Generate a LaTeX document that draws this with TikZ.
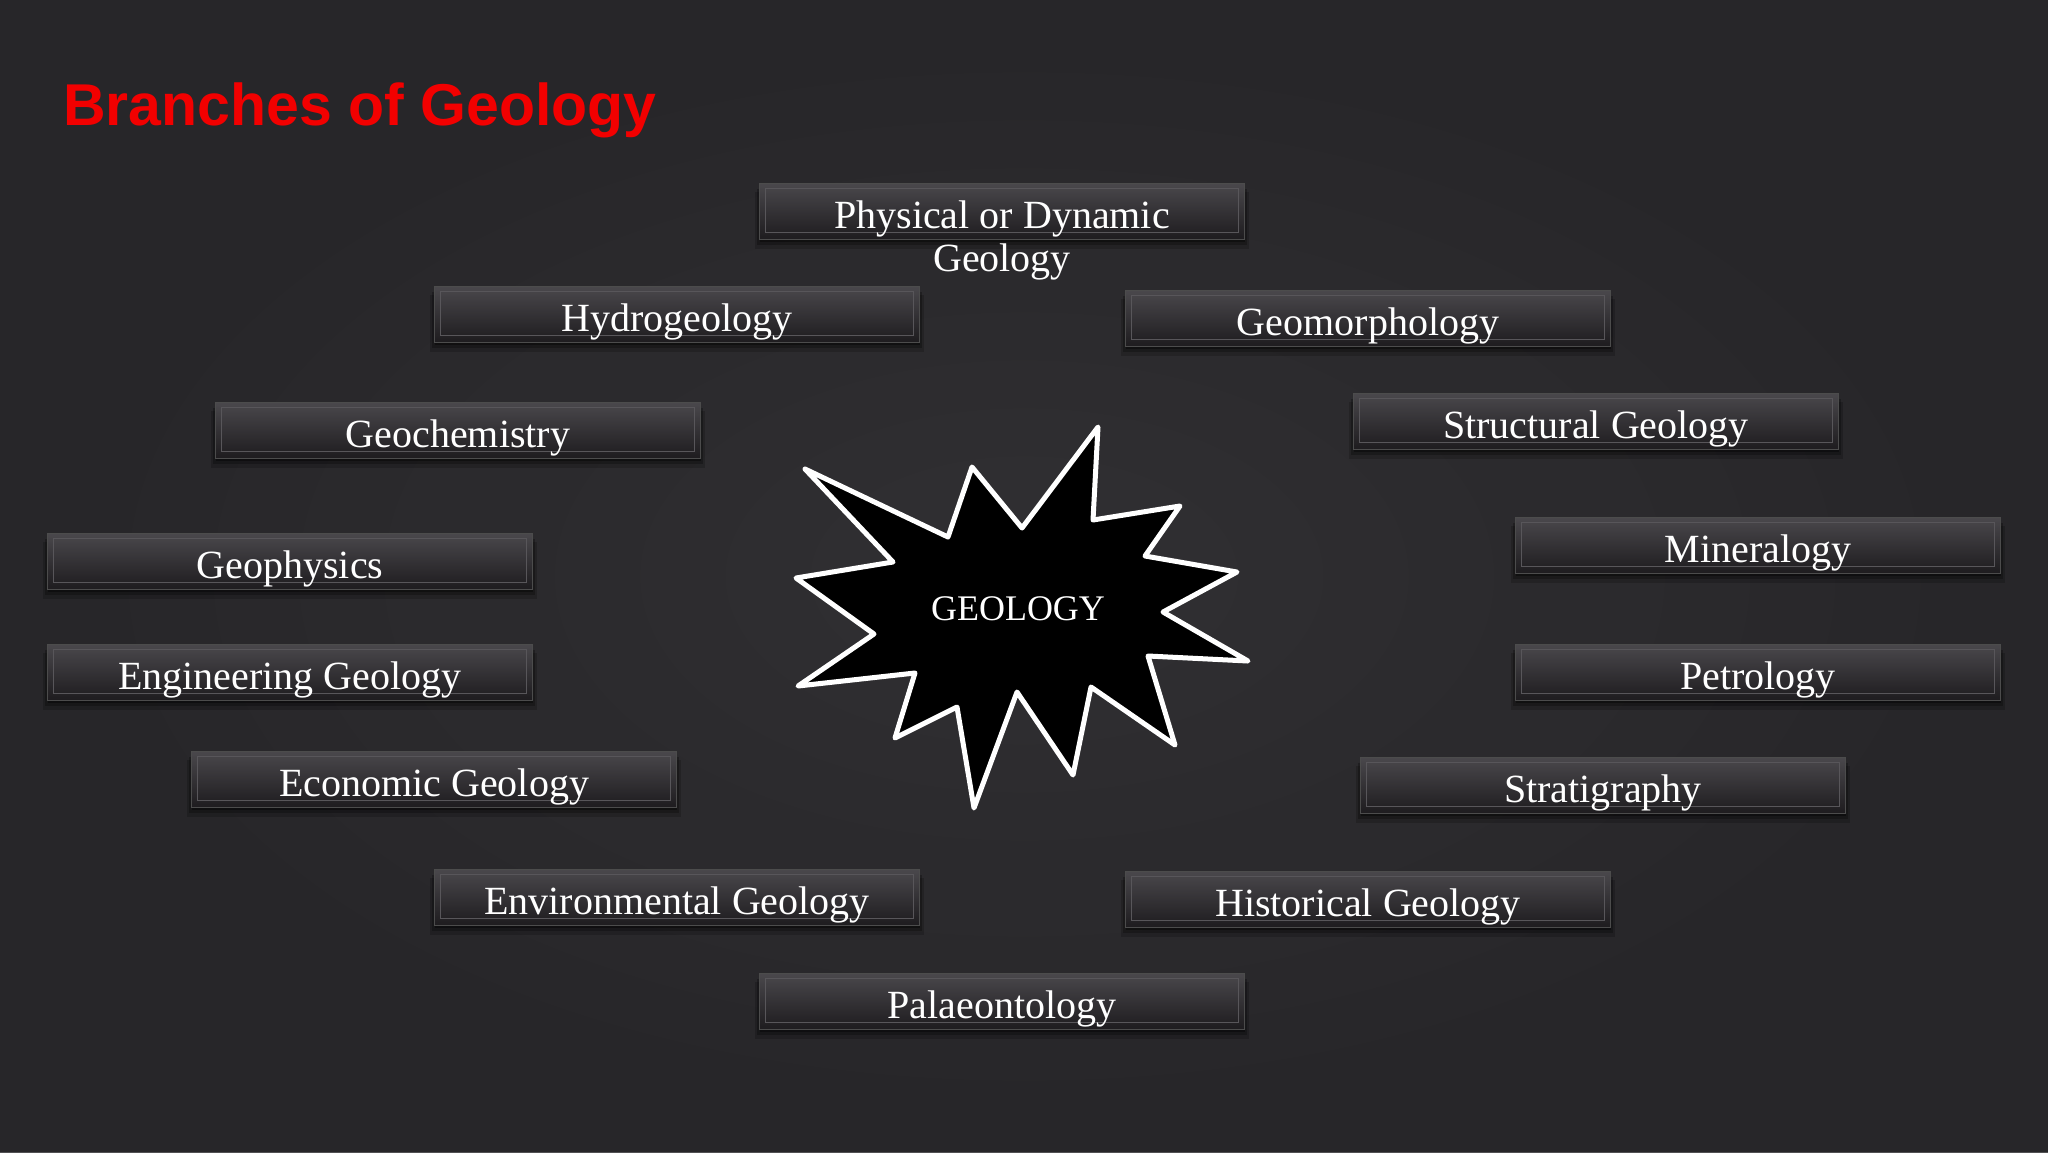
\documentclass[tikz,border=0pt]{standalone}
\usepackage{fontspec}
\setmainfont{Liberation Serif}
\newfontfamily\titlefont{Liberation Sans}
\usetikzlibrary{shadows}
\definecolor{bgcol}{HTML}{2B2A2D}
\definecolor{bgin}{HTML}{323134}
\definecolor{bgout}{HTML}{262528}
\definecolor{boxtop}{HTML}{4A484C}
\definecolor{boxbot}{HTML}{1E1C1F}
\definecolor{boxline}{HTML}{58565A}
\definecolor{titlered}{HTML}{F20000}
\tikzset{
  branch/.style={draw=black!70, line width=0.8pt, top color=boxtop, bottom color=boxbot,
    minimum width=485pt, minimum height=56pt, inner sep=0pt,
    text=white, font=\fontsize{40}{44}\selectfont, text height=34pt, text depth=0pt,
    drop shadow={shadow xshift=0pt, shadow yshift=-9pt, shadow scale=1.02, opacity=0.18, fill=black},
    drop shadow={shadow xshift=0pt, shadow yshift=-6pt, shadow scale=1.01, opacity=0.25, fill=black},
    drop shadow={shadow xshift=0pt, shadow yshift=-3pt, opacity=0.35, fill=black},
    path picture={\draw[boxline, line width=1pt]
      ([shift={(6pt,-5pt)}]path picture bounding box.north west) rectangle
      ([shift={(-6pt,7pt)}]path picture bounding box.south east);}},
  btext/.style={text=white, font=\fontsize{40}{44}\selectfont, text height=34pt, text depth=0pt, inner sep=0pt},
  starline/.style={draw=white, fill=black, line width=5pt, line join=round}
}
\begin{document}
\begin{tikzpicture}[x=1pt,y=-1pt]
\useasboundingbox (0,0) rectangle (2048,1152);
\fill[bgcol] (0,0) rectangle (2048,1152);
\shade[inner color=bgin, outer color=bgout, opacity=0.8] (0,0) rectangle (2048,1152);

\node[anchor=base west, text=titlered, font=\titlefont\bfseries\fontsize{59}{64}\selectfont, inner sep=0pt] (title) at (63,125) {Branches of Geology};

% star
\draw[starline] (805,469) -- (948,537) -- (972,467) -- (1022,528) -- (1098,427) -- (1093,520)
  -- (1180,506) -- (1145,556) -- (1237,572) -- (1163,612) -- (1248,661) -- (1148,656)
  -- (1175,745) -- (1091,687) -- (1073,775) -- (1017,692) -- (974,808) -- (957,707)
  -- (895,738) -- (915,673) -- (798,686) -- (874,634) -- (796,578) -- (893,562) -- cycle;
\node[anchor=base, text=white, font=\fontsize{36}{40}\selectfont, inner sep=0pt] (geology) at (1018,620) {GEOLOGY};

\node[branch] (phys) at (1002,211) {Physical or Dynamic};
\node[btext] (physb) at (1002,254) {Geology};
\node[branch] (hydro) at (677,314) {Hydrogeology};
\node[branch] (geomorph) at (1368,318) {Geomorphology};
\node[branch] (geochem) at (458,430) {Geochemistry};
\node[branch] (struct) at (1596,421) {Structural Geology};
\node[branch] (geophys) at (290,561) {Geophysics};
\node[branch] (mineral) at (1758,545) {Mineralogy};
\node[branch] (engin) at (290,672) {Engineering Geology};
\node[branch] (petro) at (1758,672) {Petrology};
\node[branch] (econ) at (434,779) {Economic Geology};
\node[branch] (strat) at (1603,785) {Stratigraphy};
\node[branch] (environ) at (677,897) {Environmental Geology};
\node[branch] (hist) at (1368,899) {Historical Geology};
\node[branch] (palae) at (1002,1001) {Palaeontology};
\end{tikzpicture}
\end{document}
